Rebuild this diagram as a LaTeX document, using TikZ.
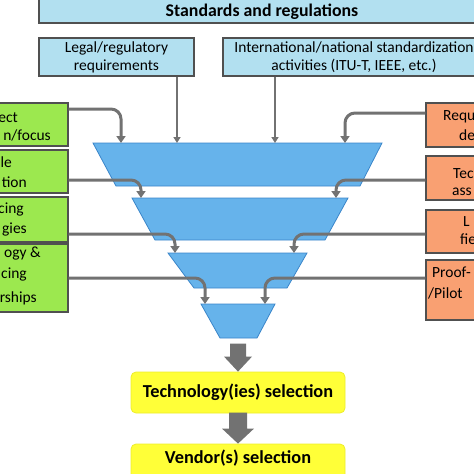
\documentclass[tikz,border=0pt]{standalone}
\usepackage{fontspec}
\setmainfont{Carlito}
\usetikzlibrary{arrows.meta,calc}
\definecolor{hdrblue}{HTML}{B2E0F0}
\definecolor{boxborder}{HTML}{505050}
\definecolor{leftgreen}{HTML}{9CE84F}
\definecolor{rightorange}{HTML}{F9A072}
\definecolor{funnelfill}{HTML}{66B3EB}
\definecolor{funneledge}{HTML}{3A85C9}
\definecolor{conngray}{HTML}{727272}
\definecolor{selyellow}{HTML}{FFFF38}
\definecolor{selyedge}{HTML}{EDED2A}
\begin{document}
\begin{tikzpicture}[x=1pt,y=-1pt,
  bluebox/.style={draw=boxborder,line width=1.3pt,fill=hdrblue,rectangle,inner sep=0pt,align=center,font=\fontsize{15.5}{18}\selectfont},
  greenbox/.style={draw=boxborder,line width=1.3pt,fill=leftgreen,rectangle,inner sep=0pt},
  orangebox/.style={draw=boxborder,line width=1.3pt,fill=rightorange,rectangle,inner sep=0pt},
  frag/.style={inner sep=0pt,font=\fontsize{15.5}{18}\selectfont},
  layer/.style={fill=funnelfill,draw=funneledge,line width=0.8pt},
  sidearrow/.style={draw=conngray,line width=3pt,rounded corners=10pt,-{Triangle[width=9pt,length=7pt]}},
  toparrow/.style={draw=conngray,line width=2pt,-{Triangle[width=7pt,length=6pt]}},
  selbox/.style={fill=selyellow,draw=selyedge,line width=0.8pt,rounded corners=5pt,inner sep=0pt,font=\fontsize{18.3}{21}\selectfont\bfseries},
  blockarrow/.style={fill=conngray}]
\useasboundingbox (0,0) rectangle (474,474);
\clip (0,0) rectangle (474,474);

% header
\node[bluebox,minimum width=450,minimum height=33] (std) at (264,6.5) {};
\node[frag,font=\fontsize{17.8}{20}\selectfont\bfseries] (stdtxt) at (262,12) {Standards and regulations};

\node[bluebox,minimum width=155,minimum height=38] (legal) at (116.5,57) {Legal/regulatory\\requirements};
\node[bluebox,minimum width=262,minimum height=38] (intl) at (354,57) {International/national standardization\\activities (ITU-T, IEEE, etc.)};

% left boxes
\node[greenbox,minimum width=100,minimum height=43] (g1) at (18,124.5) {};
\node[greenbox,minimum width=100,minimum height=43] (g2) at (18,171.5) {};
\node[greenbox,minimum width=100,minimum height=45] (g3) at (18,219.5) {};
\node[greenbox,minimum width=100,minimum height=68] (g4) at (18,278) {};
\node[frag,anchor=base east] (g1a) at (18,122) {ect};
\node[frag,anchor=base east] (g1b) at (51,140) {n/focus};
\node[frag,anchor=base east] (g2a) at (12,167) {le};
\node[frag,anchor=base east] (g2b) at (27,187) {tion};
\node[frag,anchor=base east] (g3a) at (24,213) {cing};
\node[frag,anchor=base east] (g3b) at (27,233) {gies};
\node[frag,anchor=base east] (g4a) at (41,257) {ogy \&};
\node[frag,anchor=base east] (g4b) at (27,278) {cing};
\node[frag,anchor=base east] (g4c) at (37,302) {rships};

% right boxes
\node[orangebox,minimum width=80,minimum height=44] (r1) at (466,125) {};
\node[orangebox,minimum width=80,minimum height=44] (r2) at (466,178) {};
\node[orangebox,minimum width=80,minimum height=43] (r3) at (466,231.5) {};
\node[orangebox,minimum width=80,minimum height=60] (r4) at (466,290) {};
\node[frag,anchor=base west] (r1a) at (443,120) {Requ};
\node[frag,anchor=base west] (r1b) at (459,140) {de};
\node[frag,anchor=base west] (r2a) at (453,178) {Tec};
\node[frag,anchor=base west] (r2b) at (452,195) {ass};
\node[frag,anchor=base west] (r3a) at (463,226) {L};
\node[frag,anchor=base west] (r3b) at (460,244) {fie};
\node[frag,anchor=base west] (r4a) at (432,277) {Proof-};
\node[frag,anchor=base west] (r4b) at (428,298) {/Pilot};

% funnel
\draw[layer] (93,143) -- (382,143) -- (360,186) -- (116,186) -- cycle;
\draw[layer] (132,198) -- (348,198) -- (325,240) -- (155,240) -- cycle;
\draw[layer] (168,253) -- (307,253) -- (287,288) -- (194,288) -- cycle;
\draw[layer] (201,304) -- (275,304) -- (257,338) -- (220,338) -- cycle;

% arrow targets and bends
\coordinate (tl1) at (121,143);
\coordinate (tl2) at (141,198);
\coordinate (tl3) at (175,253);
\coordinate (tl4) at (205,304);
\coordinate (tr1) at (345,143);
\coordinate (tr2) at (336,198);
\coordinate (tr3) at (294,253);
\coordinate (tr4) at (265,304);
\coordinate (tm1) at (177,143);
\coordinate (tm2) at (275,143);
\coordinate (kl1) at (121,109);
\coordinate (kl2) at (141,180);
\coordinate (kl3) at (175,234);
\coordinate (kl4) at (205,278);
\coordinate (kr1) at (345,113);
\coordinate (kr2) at (336,180);
\coordinate (kr3) at (294,234);
\coordinate (kr4) at (265,278);

% connectors
\draw[toparrow] (legal.south -| tm1) -- (tm1);
\draw[toparrow] (intl.south -| tm2) -- (tm2);
\draw[sidearrow] (g1.east |- kl1) -- (kl1) -- (tl1);
\draw[sidearrow] (g2.east |- kl2) -- (kl2) -- (tl2);
\draw[sidearrow] (g3.east |- kl3) -- (kl3) -- (tl3);
\draw[sidearrow] (g4.east |- kl4) -- (kl4) -- (tl4);
\draw[sidearrow] (r1.west |- kr1) -- (kr1) -- (tr1);
\draw[sidearrow] (r2.west |- kr2) -- (kr2) -- (tr2);
\draw[sidearrow] (r3.west |- kr3) -- (kr3) -- (tr3);
\draw[sidearrow] (r4.west |- kr4) -- (kr4) -- (tr4);

% selection boxes
\node[selbox,minimum width=214,minimum height=41] (tech) at (238,392.5) {Technology(ies) selection};
\node[selbox,minimum width=214,minimum height=40] (vendor) at (238,464) {};
\node[frag,font=\fontsize{18.3}{21}\selectfont\bfseries] (vendortxt) at (238,458) {Vendor(s) selection};

% block arrows
\fill[blockarrow] (tech.north) -- ++(-14,-15) -- ++(6,0) -- ++(0,-13) -- ++(16,0) -- ++(0,13) -- ++(6,0) -- cycle;
\fill[blockarrow] (vendor.north) -- ++(-16,-15) -- ++(7,0) -- ++(0,-16) -- ++(18,0) -- ++(0,16) -- ++(7,0) -- cycle;
\end{tikzpicture}
\end{document}
